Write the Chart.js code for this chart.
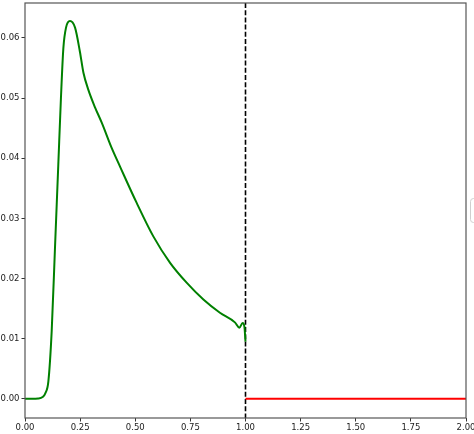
<!DOCTYPE html>
<html>
<head>
<meta charset="utf-8">
<script src="https://cdn.jsdelivr.net/npm/chart.js@4/dist/chart.umd.min.js"></script>
<style>
  html, body { margin: 0; padding: 0; background: #fff; }
  #wrap { width: 474px; height: 434px; }
</style>
</head>
<body>
<div id="wrap"><canvas id="chart"></canvas></div>
<script>
// green curve
const greenX = [0, 0.03, 0.06, 0.08, 0.092, 0.106, 0.121, 0.136, 0.151, 0.163, 0.174, 0.186, 0.204, 0.227, 0.249, 0.265, 0.287, 0.317, 0.348, 0.393, 0.431, 0.506, 0.582, 0.658, 0.733, 0.809, 0.884, 0.952, 0.972, 0.987, 0.995, 1.0]
const greenY = [0, 0, 0.00005, 0.0003, 0.0009, 0.0029, 0.0112, 0.0251, 0.0389, 0.0500, 0.0583, 0.0617, 0.0628, 0.0617, 0.0577, 0.0542, 0.0514, 0.0485, 0.0459, 0.0417, 0.0386, 0.0326, 0.0270, 0.0226, 0.0193, 0.0165, 0.0143, 0.0127, 0.0118, 0.0126, 0.0120, 0.0095]

// red line
const redX = [1.0, 2.0]
const redY = [0, 0]

// dashed marker
const vlineX = 1.0

const xTicks = [0, 0.25, 0.5, 0.75, 1.0, 1.25, 1.5, 1.75, 2.0]
const yTicks = [0, 0.01, 0.02, 0.03, 0.04, 0.05, 0.06]
const xRange = [0, 2]
const yRange = [-0.0032, 0.0658]

const toPoints = (xs, ys) => xs.map((x, i) => ({ x, y: ys[i] }))

const frame = {
  id: 'frame',
  beforeDatasetsDraw(chart) {
    const { ctx, chartArea: a, scales } = chart
    const px = scales.x.getPixelForValue(vlineX)
    ctx.save()
    ctx.strokeStyle = '#000'
    ctx.lineWidth = 1.6
    ctx.setLineDash([5, 2.2])
    ctx.beginPath()
    ctx.moveTo(px, a.top)
    ctx.lineTo(px, a.bottom)
    ctx.stroke()
    ctx.restore()
  },
  afterDraw(chart) {
    const { ctx, chartArea: a } = chart
    ctx.save()
    ctx.strokeStyle = '#555'
    ctx.lineWidth = 1.2
    ctx.strokeRect(a.left, a.top, a.right - a.left, a.bottom - a.top)
    // clipped legend frame peeking in at the right edge
    ctx.strokeStyle = '#cfcfcf'
    ctx.lineWidth = 1
    ctx.beginPath()
    ctx.moveTo(480, 198.5)
    ctx.lineTo(473.5, 198.5)
    ctx.quadraticCurveTo(470.5, 198.5, 470.5, 201.5)
    ctx.lineTo(470.5, 219.5)
    ctx.quadraticCurveTo(470.5, 222.5, 473.5, 222.5)
    ctx.lineTo(480, 222.5)
    ctx.stroke()
    ctx.restore()
  }
}

const tickFont = { family: 'DejaVu Sans', size: 8.5 }

new Chart(document.getElementById('chart'), {
  type: 'line',
  data: {
    datasets: [
      {
        data: toPoints(greenX, greenY),
        borderColor: '#008000',
        borderWidth: 2,
        pointRadius: 0,
        cubicInterpolationMode: 'monotone',
        fill: false,
      },
      {
        data: toPoints(redX, redY),
        borderColor: '#ff0000',
        borderWidth: 2,
        pointRadius: 0,
        fill: false,
      },
    ],
  },
  options: {
    responsive: true,
    maintainAspectRatio: false,
    animation: false,
    layout: { padding: { top: 3, right: 8, left: 0, bottom: 0 } },
    plugins: {
      legend: { display: false },
      tooltip: { enabled: false },
    },
    scales: {
      x: {
        type: 'linear',
        min: xRange[0],
        max: xRange[1],
        afterBuildTicks(scale) {
          scale.ticks = xTicks.map((v) => ({ value: v }))
        },
        afterFit(scale) {
          scale.height = 16
          scale.paddingLeft = 0
          scale.paddingRight = 0
        },
        grid: { drawOnChartArea: false, drawTicks: true, tickLength: 3.5, tickColor: '#333' },
        border: { display: false },
        ticks: {
          color: '#222',
          font: tickFont,
          padding: 1,
          maxRotation: 0,
          autoSkip: false,
          callback: (v) => Number(v).toFixed(2),
        },
      },
      y: {
        type: 'linear',
        min: yRange[0],
        max: yRange[1],
        afterBuildTicks(scale) {
          scale.ticks = yTicks.map((v) => ({ value: v }))
        },
        afterFit(scale) {
          scale.width = 25
          scale.paddingTop = 0
          scale.paddingBottom = 0
        },
        grid: { drawOnChartArea: false, drawTicks: true, tickLength: 3.5, tickColor: '#333' },
        border: { display: false },
        ticks: {
          color: '#222',
          font: tickFont,
          padding: 2,
          autoSkip: false,
          callback: (v) => Number(v).toFixed(2),
        },
      },
    },
  },
  plugins: [frame],
})
</script>
</body>
</html>
